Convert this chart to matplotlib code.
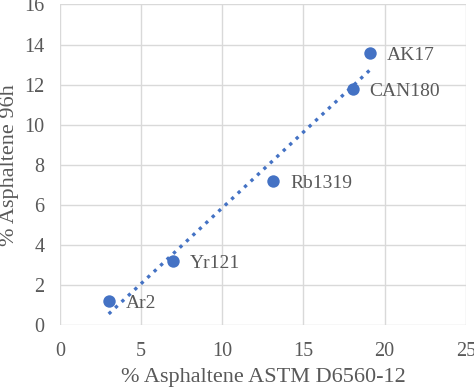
import numpy as np
import matplotlib.pyplot as plt

# sample points
names = ['Ar2', 'Yr121', 'Rb1319', 'CAN180', 'AK17']
astm = [3.0, 6.95, 13.15, 18.05, 19.1]
h96 = [1.2, 3.2, 7.2, 11.8, 13.6]

xticks = [0, 5, 10, 15, 20, 25]
yticks = [0, 2, 4, 6, 8, 10, 12, 14, 16]

plt.rcParams['font.family'] = ['Liberation Serif', 'DejaVu Serif']
grey = '#595959'
blue = '#4472C4'

fig = plt.figure(figsize=(4.74, 3.91), dpi=100)
ax = fig.add_axes([0.1266, 0.1688, 0.856, 0.8197])

# linear trendline
k, b = np.polyfit(astm, h96, 1)
xl = np.array([min(astm), max(astm)])
ax.plot(xl, k*xl + b, ':', color=blue, lw=2.4, zorder=2)

ax.scatter(astm, h96, s=80, color=blue, zorder=3, linewidths=0)
for n, x, y in zip(names, astm, h96):
    ax.annotate(n, (x, y), xytext=(12, -2), textcoords='offset points',
                va='center', ha='left', fontsize=14, color=grey)

ax.set_xlim(0, 25)
ax.set_ylim(0, 16)
ax.set_xticks(xticks)
ax.set_yticks(yticks)
ax.grid(color='#d9d9d9', lw=1)
ax.set_axisbelow(True)
for s in ax.spines.values():
    s.set_visible(False)
ax.tick_params(length=0, labelsize=14.5, colors=grey)
ax.tick_params(axis='x', pad=12)
ax.tick_params(axis='y', pad=11)
ax.set_xlabel('% Asphaltene ASTM D6560-12', fontsize=16, color=grey, labelpad=5)
ax.set_ylabel('% Asphaltene 96h', fontsize=16, color=grey, labelpad=4)

fig.savefig('out.png', dpi=100)
